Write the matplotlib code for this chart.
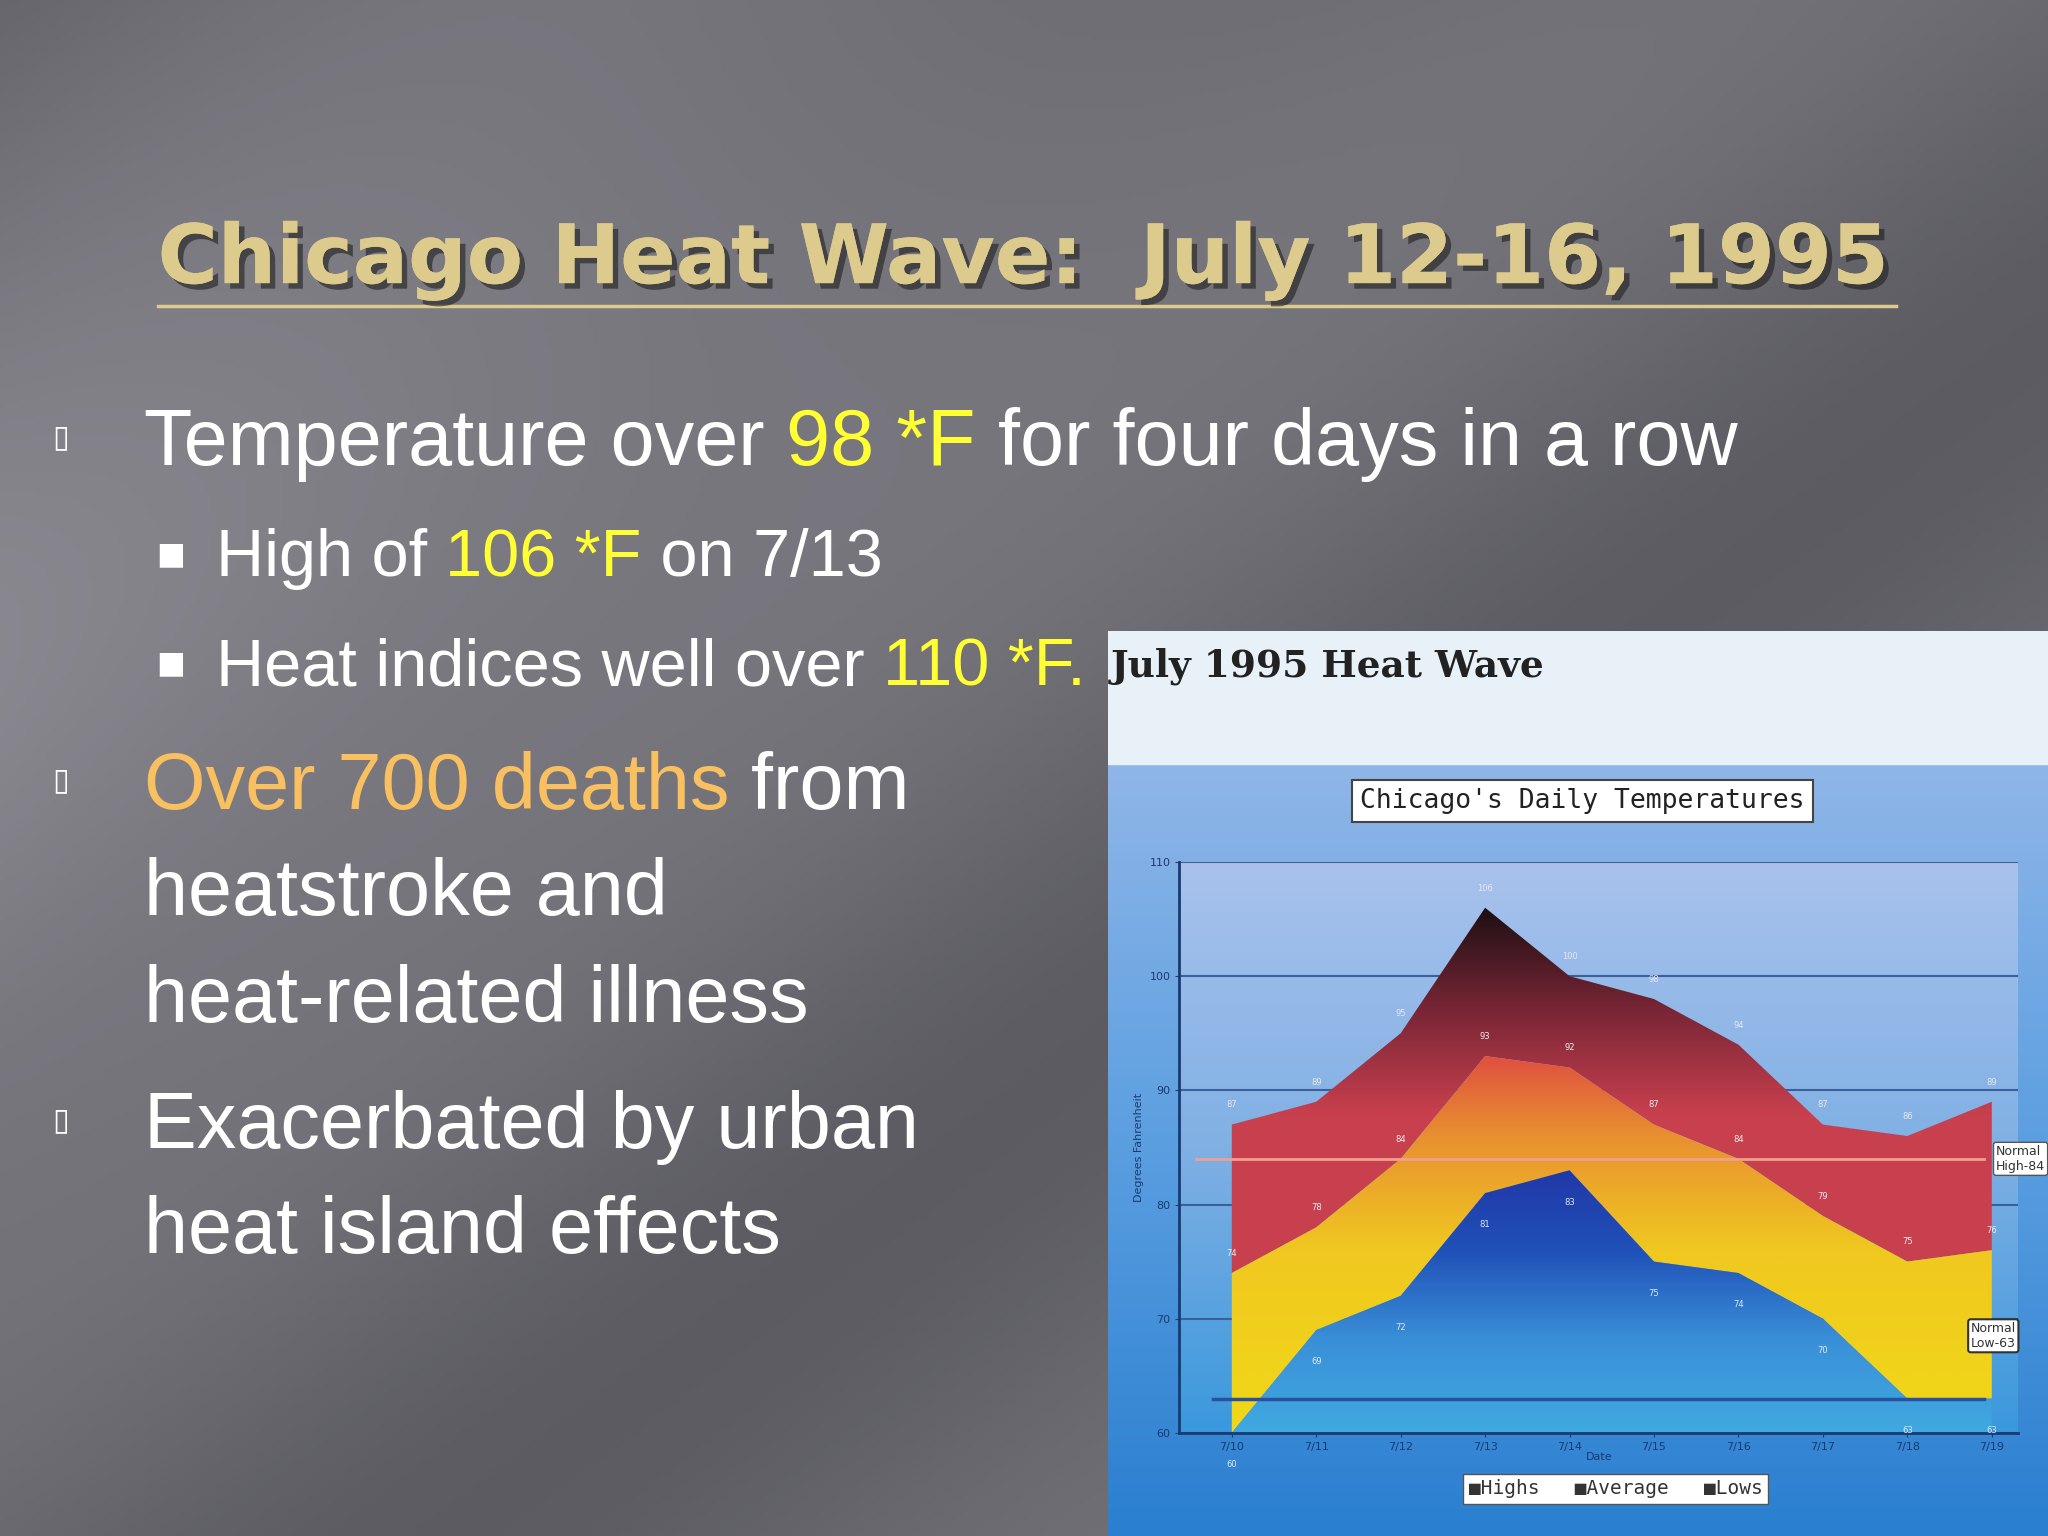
import numpy as np
import matplotlib
matplotlib.use("Agg")
import matplotlib.pyplot as plt
import matplotlib.patheffects as pe
from matplotlib.colors import LinearSegmentedColormap
from matplotlib.patches import Rectangle

dates = ["7/10", "7/11", "7/12", "7/13", "7/14", "7/15", "7/16", "7/17", "7/18", "7/19"]
highs = [87, 89, 95, 106, 100, 98, 94, 87, 86, 89]
average = [74, 78, 84, 93, 92, 87, 84, 79, 75, 76]
lows = [60, 69, 72, 81, 83, 75, 74, 70, 63, 63]
yticks = [60, 70, 80, 90, 100, 110]
normal_high = 84
normal_low = 63

W, H = 20.48, 15.36
fig = plt.figure(figsize=(W, H), dpi=100)

# slide background
bg = fig.add_axes([0, 0, 1, 1])
bg.set_axis_off()
yy, xx = np.mgrid[0:1:300j, 0:1:400j]
val = 0.42 + 0.22 * np.exp(-((xx - 0.15) * 0.8 + (yy - 0.35)) ** 2 / 0.06) * (1 - xx) \
      + 0.05 * np.sin((xx + yy) * 9)
bg.imshow(val, cmap=LinearSegmentedColormap.from_list("g", ["#3c3c42", "#aeacb4"]),
          vmin=0.2, vmax=0.8, extent=[0, 1, 0, 1], aspect="auto", origin="upper")
bg.set_xlim(0, 1); bg.set_ylim(0, 1)

fig.text(0.5, 0.83, "Chicago Heat Wave:  July 12-16, 1995", ha="center", va="center",
         fontsize=59, fontweight="bold", color="#dccb8c", family="DejaVu Sans",
         path_effects=[pe.withSimplePatchShadow(offset=(4, -4), shadow_rgbFace="#202020", alpha=0.6),
                       pe.Normal()])
bg.plot([0.077, 0.926], [0.801, 0.801], color="#dccb8c", lw=2.5)

fig.canvas.draw()
rend = fig.canvas.get_renderer()

def segs(x, y, parts, size):
    for txt, col in parts:
        t = fig.text(x, y, txt, fontsize=size, color=col, va="center", ha="left",
                     family="Liberation Sans")
        bb = t.get_window_extent(rend)
        x += bb.width / fig.bbox.width

Y = "#ffff33"
def yfr(p): return 1 - p / 1176
def xfr(p): return p / 1568

for yp in [335, 598, 858]:
    fig.text(xfr(40), yfr(yp), "▯", fontsize=22, color="white", va="center",
             family="DejaVu Sans")
for yp in [425, 508]:
    fig.text(xfr(120), yfr(yp), "■", fontsize=22, color="white", va="center",
             family="DejaVu Sans")

M, S = 57, 48
segs(xfr(110), yfr(340), [("Temperature over ", "white"), ("98 *F", Y),
                          (" for four days in a row", "white")], M)
segs(xfr(165), yfr(428), [("High of ", "white"), ("106 *F", Y), (" on 7/13", "white")], S)
segs(xfr(165), yfr(512), [("Heat indices well over ", "white"), ("110 *F.", Y)], S)
segs(xfr(110), yfr(604), [("Over 700 deaths", "#f8c060"), (" from", "white")], M)
segs(xfr(110), yfr(685), [("heatstroke and", "white")], M)
segs(xfr(110), yfr(767), [("heat-related illness", "white")], M)
segs(xfr(110), yfr(863), [("Exacerbated by urban", "white")], M)
segs(xfr(110), yfr(944), [("heat island effects", "white")], M)

# chart panel
x0 = xfr(848)
panel = fig.add_axes([x0, 0, 1 - x0, yfr(483)])
panel.set_axis_off()
panel.set_xlim(0, 1); panel.set_ylim(0, 1)
hdr = 1 - (585 - 483) / 693
panel.add_patch(Rectangle((0, hdr), 1, 1 - hdr, color="#e8f0f8"))
g = np.linspace(0, 1, 200)[:, None]
panel.imshow(g, cmap=LinearSegmentedColormap.from_list("b", ["#2a7fd0", "#5a9ee0", "#8fb6e8"]),
             extent=[0, 1, 0, hdr], aspect="auto", origin="lower")
panel.text(0.003, 1 - (510 - 483) / 693, "July 1995 Heat Wave", fontsize=27,
           fontweight="bold", family="DejaVu Serif", color="#222", va="center")
panel.text(0.505, 1 - (613 - 483) / 693, "Chicago's Daily Temperatures", fontsize=19,
           family="DejaVu Sans Mono", color="#222", ha="center", va="center",
           bbox=dict(boxstyle="square,pad=0.3", fc="white", ec="#444", lw=1.5))
panel.text(0.54, 1 - (1140 - 483) / 693, "■Highs   ■Average   ■Lows", fontsize=14,
           family="DejaVu Sans Mono", color="#333", ha="center", va="center",
           bbox=dict(boxstyle="square,pad=0.3", fc="white", ec="#555", lw=1))

ax = fig.add_axes([xfr(903), yfr(1097), xfr(1545) - xfr(903), yfr(660) - yfr(1097)])
x = np.arange(len(dates))
XL = (-0.62, 9.31)
ax.set_xlim(*XL)
ax.set_ylim(60, 110)
ax.imshow(g, cmap=LinearSegmentedColormap.from_list("pb", ["#3a98dc", "#80b0e4", "#a8c2ec"]),
          extent=[XL[0], XL[1], 60, 110], aspect="auto", origin="lower", zorder=0)
for yt in yticks:
    ax.axhline(yt, color="#3a5f9a", lw=1.5, zorder=1)

def grad_fill(upper, lower, stops):
    poly = ax.fill_between(x, lower, upper, color="none", lw=0, zorder=2)
    cm = LinearSegmentedColormap.from_list("c", [((v - 60) / 50, c) for v, c in stops])
    im = ax.imshow(np.linspace(0, 1, 300)[:, None], cmap=cm, origin="lower",
                   extent=[XL[0], XL[1], 60, 110], aspect="auto", zorder=2)
    im.set_clip_path(poly.get_paths()[0], transform=ax.transData)

grad_fill(highs, average, [(60, "#c8404e"), (88, "#c8404e"), (97, "#7a2636"),
                           (106, "#1e1014"), (110, "#1e1014")])
grad_fill(average, lows, [(60, "#f0d818"), (76, "#f0c820"), (86, "#e89030"),
                          (93, "#e05040"), (110, "#e05040")])
grad_fill(lows, [60] * 10, [(60, "#40a8e0"), (68, "#3a90d8"), (76, "#2050b8"),
                            (83, "#2038a8"), (110, "#2038a8")])

ax.axhline(normal_high, xmin=0.02, xmax=0.96, color="#f0a090", lw=2, zorder=3)
ax.axhline(normal_low, xmin=0.04, xmax=0.96, color="#2a50a0", lw=2.5, zorder=3)
for xi, v in zip(x, highs):
    ax.text(xi, v + 1.5, str(v), fontsize=6, color="#e8e8f0", ha="center", zorder=4)
for xi, v in zip(x, average):
    ax.text(xi, v + 1.5, str(v), fontsize=6, color="#f0f0f0", ha="center", zorder=4)
for xi, v in zip(x, lows):
    ax.text(xi, v - 3, str(v), fontsize=6, color="#e0e8f8", ha="center", zorder=4)
ax.text(9.05, normal_high, "Normal\nHigh-84", fontsize=9, color="#333", va="center",
        bbox=dict(boxstyle="round,pad=0.2", fc="white", ec="#555"), zorder=5)
ax.text(8.75, 68.5, "Normal\nLow-63", fontsize=9, color="#333", va="center",
        bbox=dict(boxstyle="round,pad=0.2", fc="white", ec="#333", lw=1.5), zorder=5)

ax.set_xticks(x)
ax.set_xticklabels(dates, fontsize=8, color="#1a3a70")
ax.set_yticks(yticks)
ax.set_yticklabels([str(t) for t in yticks], fontsize=8, color="#1a3a70")
ax.set_xlabel("Date", fontsize=8, color="#1a3a70", labelpad=0)
ax.set_ylabel("Degrees Fahrenheit", fontsize=8, color="#1a3a70")
ax.tick_params(length=3, color="#1a3a70")
for s in ["top", "right"]:
    ax.spines[s].set_visible(False)
for s in ["left", "bottom"]:
    ax.spines[s].set_color("#1a3a70"); ax.spines[s].set_linewidth(2)

fig.savefig("out.png", dpi=100)
